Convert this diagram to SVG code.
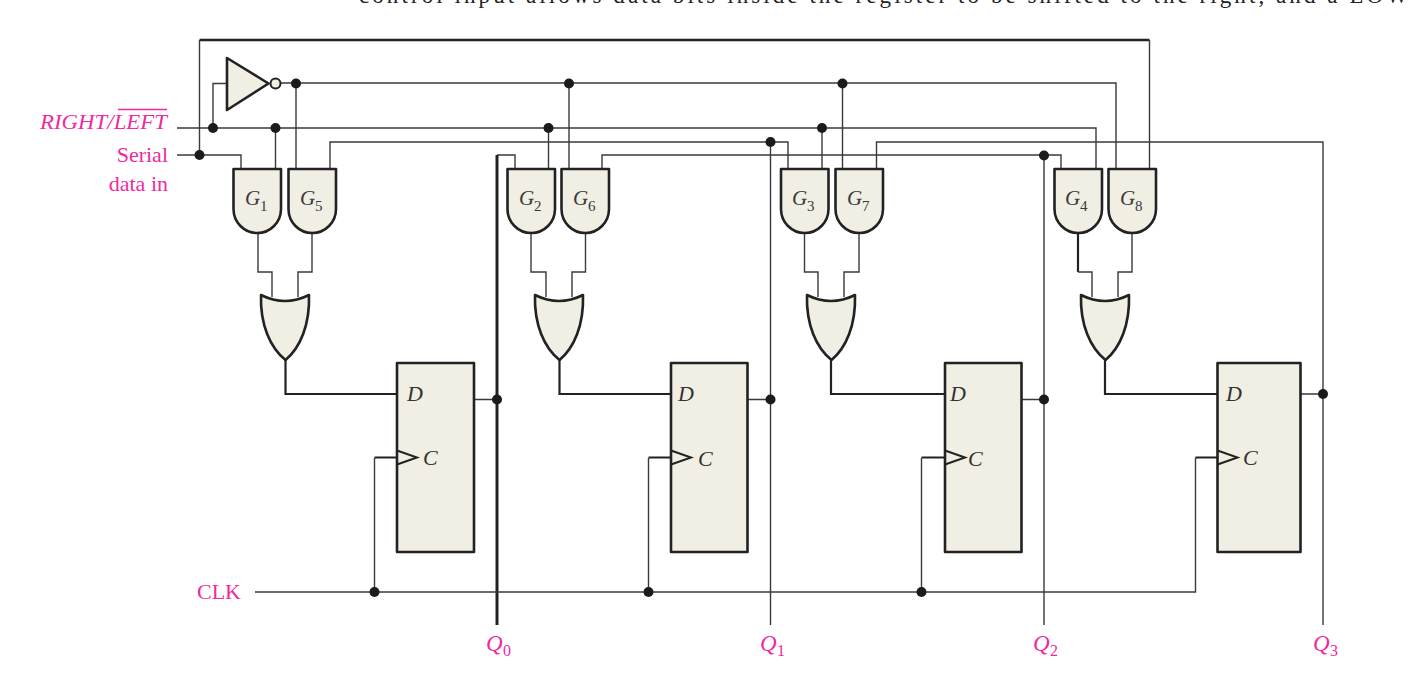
<svg xmlns="http://www.w3.org/2000/svg" width="1426" height="676" viewBox="0 0 1426 676">
<style>
.w{fill:none;stroke:#3a3a3a;stroke-width:1.4}
.t{fill:none;stroke:#222;stroke-width:2.2}
.q{fill:none;stroke:#222;stroke-width:3}
.d{fill:#1c1a1c;stroke:none}
.b{fill:#f1eee3;stroke:#222;stroke-width:2.6;stroke-linejoin:round}
.g{font:italic 21px "Liberation Serif",serif;fill:#3a3a3a}
.s{font:15px "Liberation Serif",serif;fill:#3a3a3a}
.f{font:italic 22px "Liberation Serif",serif;fill:#333}
.p{font:22px "Liberation Serif",serif;fill:#f02a9e}
.pi{font:italic 23px "Liberation Serif",serif;fill:#f02a9e}
.ps{font:16px "Liberation Serif",serif;fill:#f02a9e}
.head{font:23px "Liberation Serif",serif;fill:#222}
</style>
<defs>
<path id="and" class="b" d="M0 0H47.5V40A23.75 24 0 0 1 0 40Z"/>
<path id="or" class="b" d="M0 0Q24 12 48 0C49 30 39 53 24.500 65C9.500 53 -1 30 0 0Z"/>
<path id="clk" fill="none" stroke="#222" stroke-width="2" d="M0 -7L20 0L0 7"/>
</defs>
<text class="head" x="359" y="3" textLength="1049" lengthAdjust="spacing">control input allows data bits inside the register to be shifted to the right, and a LOW</text>
<g id="connectors">
<path class="q" style="stroke-width:2.500" d="M199.500 40H1149.500"/>
<path class="w" d="M199.500 40V155M177 155H241V169M1149.500 40V169"/>
<path class="w" d="M213 128V83.500H227M177 128H1096V169M275.500 128V169M548.500 128V169M822 128V169"/>
<path class="w" d="M281 83H1116V169M296 83V169M569 83V169M842.500 83V169"/>
<path class="w" d="M330 169V142H788V169M876.500 169V142H1323V625"/>
<path class="w" d="M497 155H515V169M602 169V155H1061V169"/>
<path class="q" d="M497 155V625"/>
<path class="w" d="M770.500 142V625M1044 155V625"/>
<path class="w" d="M258 233V272H272V297M312 233V272H298V297"/>
<path class="w" d="M531 233V272H546V297M585.500 233V272H572V297"/>
<path class="w" d="M804.500 233V272H818V297M859 233V272H844V297"/>
<path class="t" d="M1078 233V272"/>
<path class="w" d="M1078 272H1092V297M1132 233V272H1118V297"/>
<path class="t" d="M285.500 360V394H397M559.500 360V394H671M831 360V394H945M1105 360V394H1217"/>
<path class="w" d="M255 592H1195.500V457.500M374.500 592V458M648.500 592V458M921.500 592V458"/>
<path class="t" d="M374.500 457.500H397M648.500 457.500H671M921.500 457.500H945M1195.500 457.500H1217"/>
<path class="w" d="M474 399.500H497M747.500 399.500H770.500M1021.500 399.500H1044M1300.500 394H1323"/>
<circle class="d" cx="199.500" cy="155" r="5"/>
<circle class="d" cx="213" cy="128" r="5"/>
<circle class="d" cx="275.500" cy="128" r="5"/>
<circle class="d" cx="548.500" cy="128" r="5"/>
<circle class="d" cx="822" cy="128" r="5"/>
<circle class="d" cx="296" cy="83.500" r="5"/>
<circle class="d" cx="569" cy="83.500" r="5"/>
<circle class="d" cx="842.500" cy="83.500" r="5"/>
<circle class="d" cx="770.500" cy="142" r="5"/>
<circle class="d" cx="1044" cy="155.500" r="5"/>
<circle class="d" cx="497" cy="399.500" r="5"/>
<circle class="d" cx="770.500" cy="399.500" r="5"/>
<circle class="d" cx="1044" cy="399.500" r="5"/>
<circle class="d" cx="1323" cy="394" r="5"/>
<circle class="d" cx="374.500" cy="592" r="5"/>
<circle class="d" cx="648.500" cy="592" r="5"/>
<circle class="d" cx="921.500" cy="592" r="5"/>
</g>
<g id="inverter">
<path class="b" d="M227 58L268.500 83.500L227 110Z"/>
<circle class="b" style="stroke-width:2" cx="275.500" cy="83.500" r="5"/>
</g>
<g id="G1"><use href="#and" x="233.500" y="169"/><text class="g" x="245" y="205">G</text><text class="s" x="260" y="211">1</text></g>
<g id="G5"><use href="#and" x="288.500" y="169"/><text class="g" x="300" y="205">G</text><text class="s" x="315" y="211">5</text></g>
<g id="G2"><use href="#and" x="507.500" y="169"/><text class="g" x="519" y="205">G</text><text class="s" x="534" y="211">2</text></g>
<g id="G6"><use href="#and" x="561.500" y="169"/><text class="g" x="573" y="205">G</text><text class="s" x="588" y="211">6</text></g>
<g id="G3"><use href="#and" x="781" y="169"/><text class="g" x="792" y="205">G</text><text class="s" x="807" y="211">3</text></g>
<g id="G7"><use href="#and" x="835.500" y="169"/><text class="g" x="847" y="205">G</text><text class="s" x="862" y="211">7</text></g>
<g id="G4"><use href="#and" x="1054.500" y="169"/><text class="g" x="1065" y="205">G</text><text class="s" x="1080" y="211">4</text></g>
<g id="G8"><use href="#and" x="1108.500" y="169"/><text class="g" x="1120" y="205">G</text><text class="s" x="1135" y="211">8</text></g>
<g id="OR1"><use href="#or" x="261" y="295"/></g>
<g id="OR2"><use href="#or" x="535" y="295"/></g>
<g id="OR3"><use href="#or" x="807" y="295"/></g>
<g id="OR4"><use href="#or" x="1081" y="295"/></g>
<g id="FF0"><rect class="b" x="397" y="363" width="77" height="189"/><use href="#clk" x="397" y="457.500"/><text class="f" x="407" y="401">D</text><text class="f" x="423" y="465">C</text></g>
<g id="FF1"><rect class="b" x="671" y="363" width="76.500" height="189"/><use href="#clk" x="671" y="457.500"/><text class="f" x="678" y="401">D</text><text class="f" x="698" y="466">C</text></g>
<g id="FF2"><rect class="b" x="945" y="363" width="76.500" height="189"/><use href="#clk" x="945" y="457.500"/><text class="f" x="950" y="401">D</text><text class="f" x="968" y="466">C</text></g>
<g id="FF3"><rect class="b" x="1217.500" y="363" width="83" height="189"/><use href="#clk" x="1217.500" y="457.500"/><text class="f" x="1226" y="401">D</text><text class="f" x="1243" y="465">C</text></g>
<g id="labels">
<text class="pi" style="font-size:21.500px" x="40" y="129" textLength="127" lengthAdjust="spacingAndGlyphs">RIGHT/LEFT</text>
<path d="M118 109.500H167" stroke="#f02a9e" stroke-width="1.400" fill="none"/>
<text class="p" x="168" y="162" text-anchor="end">Serial</text>
<text class="p" x="168" y="191" text-anchor="end">data in</text>
<text class="p" x="197" y="599">CLK</text>
<text class="pi" x="486" y="651">Q</text><text class="ps" x="503" y="656">0</text>
<text class="pi" x="760" y="651">Q</text><text class="ps" x="777" y="656">1</text>
<text class="pi" x="1033" y="651">Q</text><text class="ps" x="1050" y="656">2</text>
<text class="pi" x="1313" y="651">Q</text><text class="ps" x="1330" y="656">3</text>
</g>
</svg>
